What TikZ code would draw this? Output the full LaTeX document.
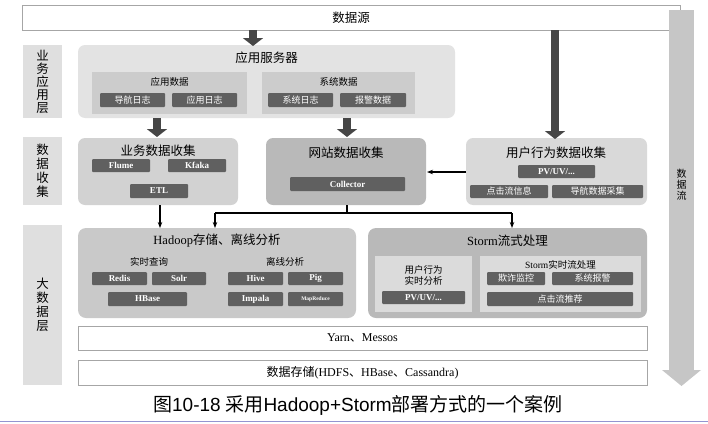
\documentclass[tikz,border=0pt]{standalone}
\usepackage{fontspec}
\setmainfont{Liberation Serif}
\newfontfamily\cjk{Noto Sans CJK SC}
\newfontfamily\capf{Liberation Sans}
\usetikzlibrary{arrows.meta}
\begin{document}
\begin{tikzpicture}[x=1pt,y=-1pt,
  wbox/.style={draw=gray!70,fill=white,line width=0.6pt},
  side/.style={fill=gray!25,draw=none},
  inner/.style={fill=gray!40,draw=none},
  chip/.style={fill=gray!75!black,draw=none,rounded corners=1pt},
  ct/.style={text=white,font=\bfseries\fontsize{9}{10}\selectfont},
  cc/.style={text=white,font=\cjk\fontsize{9}{10}\selectfont},
  title/.style={font=\cjk\fontsize{12.5}{14}\selectfont},
  sub/.style={font=\cjk\fontsize{9.5}{11}\selectfont},
  big/.style={-{Triangle[width=20pt,length=8pt]},line width=8pt,draw=gray!55!black},
  thin/.style={-{Stealth[length=6pt]},line width=1.1pt}]
\useasboundingbox (0,0) rectangle (708,423);
% data source
\node[wbox,minimum width=658pt,minimum height=25pt,inner sep=0pt] (src) at (351,17.5) {};
\node[title] (srct) at (src) {数据源};
% data flow column
\fill[gray!45] (669,10) rectangle (694,370);
\fill[gray!45] (662,370) -- (701,370) -- (681.5,386) -- cycle;
\node[font=\cjk\fontsize{10}{11}\selectfont,align=center] (flow) at (681.5,185) {数\\据\\流};
% side labels
\fill[side] (23,45) rectangle (62,118);
\node[font=\cjk\fontsize{12.5}{13}\selectfont,align=center] (l1) at (42.5,81.5) {业\\务\\应\\用\\层};
\fill[side] (23,137) rectangle (62,205);
\node[font=\cjk\fontsize{12.5}{14}\selectfont,align=center] (l2) at (42.5,171) {数\\据\\收\\集};
\fill[side] (23,225) rectangle (62,385);
\node[font=\cjk\fontsize{12.5}{14}\selectfont,align=center] (l3) at (42.5,305) {大\\数\\据\\层};
% app server
\fill[gray!22,rounded corners=7pt] (78,45) rectangle (455,118);
\node[title] (appt) at (266.5,58) {应用服务器};
\fill[inner] (92,72) rectangle (247,114);
\fill[inner] (262,72) rectangle (415,114);
\node[sub] (ad) at (169.5,82) {应用数据};
\node[sub] (sd) at (338.5,82) {系统数据};
\fill[chip] (100,93) rectangle (165,107); \node[cc] (c1) at (132.5,100) {导航日志};
\fill[chip] (172,93) rectangle (237,107); \node[cc] (c2) at (204.5,100) {应用日志};
\fill[chip] (268,93) rectangle (333,107); \node[cc] (c3) at (300.5,100) {系统日志};
\fill[chip] (340,93) rectangle (406,107); \node[cc] (c4) at (373,100) {报警数据};
% collection
\fill[gray!35,rounded corners=7pt] (78,138) rectangle (238,205);
\node[title] (bt) at (158,151) {业务数据收集};
\fill[chip] (92,159) rectangle (150,172); \node[ct] (f1) at (121,165.5) {Flume};
\fill[chip] (168,159) rectangle (226,172); \node[ct] (f2) at (197,165.5) {Kfaka};
\fill[chip] (130,184) rectangle (188,198); \node[ct] (f3) at (159,191) {ETL};
\fill[gray!55,rounded corners=7pt] (266,138) rectangle (426,205);
\node[title] (wt) at (346,153) {网站数据收集};
\fill[chip] (290,177) rectangle (405,191); \node[ct] (col) at (347.5,184) {Collector};
\fill[gray!30,rounded corners=7pt] (466,138) rectangle (647,205);
\node[title] (ut) at (556,153) {用户行为数据收集};
\fill[chip] (518,165) rectangle (595,178); \node[ct] (pv1) at (556.5,171.5) {PV/UV/...};
\fill[chip] (470,185) rectangle (548,198); \node[cc] (u1) at (509,191.5) {点击流信息};
\fill[chip] (552,185) rectangle (643,198); \node[cc] (u2) at (597.5,191.5) {导航数据采集};
% big arrows
\draw[big] (253,30) -- (253,46);
\draw[big] (157,118) -- (157,137);
\draw[big] (347,118) -- (347,137);
\draw[big] (555,30) -- (555,139);
\coordinate (ur) at (466,172); \coordinate (wr) at (427,172);
\draw[thin] (ur) -- (wr);
% connectors
\coordinate (b1) at (160,205); \coordinate (h1) at (160,228);
\draw[thin] (b1) -- (h1);
\coordinate (w1) at (347,205); \coordinate (j) at (347,213);
\coordinate (jl) at (215,213); \coordinate (jr) at (512,213);
\coordinate (h2) at (215,228); \coordinate (s2) at (512,228);
\draw[line width=1.1pt] (w1) -- (j);
\draw[line width=1.1pt] (jl) -- (jr);
\draw[thin] (jl) -- (h2);
\draw[thin] (jr) -- (s2);
% Hadoop
\fill[gray!42,rounded corners=8pt] (78,228) rectangle (356,318);
\node[font=\fontsize{12.5}{14}\selectfont] (ht) at (217,241) {Hadoop{\cjk 存储、离线分析}};
\node[sub] (rq) at (149,262) {实时查询};
\node[sub] (ol) at (285,262) {离线分析};
\fill[chip] (92,272) rectangle (147,285); \node[ct] (h_a) at (119.5,278.5) {Redis};
\fill[chip] (152,272) rectangle (206,285); \node[ct] (h_b) at (179,278.5) {Solr};
\fill[chip] (108,292) rectangle (187,306); \node[ct] (h_c) at (147.5,299) {HBase};
\fill[chip] (228,272) rectangle (283,285); \node[ct] (h_d) at (255.5,278.5) {Hive};
\fill[chip] (288,272) rectangle (343,285); \node[ct] (h_e) at (315.5,278.5) {Pig};
\fill[chip] (228,292) rectangle (283,306); \node[ct] (h_f) at (255.5,299) {Impala};
\fill[chip] (288,292) rectangle (343,306); \node[text=white,font=\bfseries\fontsize{5.5}{6}\selectfont] (h_g) at (315.5,299) {MapReduce};
% Storm
\fill[gray!55,rounded corners=8pt] (368,228) rectangle (647,318);
\node[font=\fontsize{12.5}{14}\selectfont] (st) at (507.5,241) {Storm{\cjk 流式处理}};
\fill[gray!28] (375,256) rectangle (472,312);
\node[sub,align=center] (ua) at (423.5,275) {用户行为\\实时分析};
\fill[chip] (382,291) rectangle (465,304); \node[ct] (pv2) at (423.5,297.5) {PV/UV/...};
\fill[gray!28] (480,256) rectangle (641,312);
\node[font=\fontsize{9.5}{11}\selectfont] (srt) at (560.5,265) {Storm{\cjk 实时流处理}};
\fill[chip] (487,272) rectangle (545,285); \node[cc] (s_a) at (516,278.5) {欺诈监控};
\fill[chip] (552,272) rectangle (633,285); \node[cc] (s_b) at (592.5,278.5) {系统报警};
\fill[chip] (487,292) rectangle (633,306); \node[cc] (s_c) at (560,299) {点击流推荐};
% bottom layers
\node[wbox,minimum width=569pt,minimum height=24pt,inner sep=0pt] (yarn) at (362.5,338) {};
\node[font=\fontsize{12}{13}\selectfont] (yt) at (yarn) {Yarn{\cjk 、}Messos};
\node[wbox,minimum width=569pt,minimum height=25pt,inner sep=0pt] (store) at (362.5,372.5) {};
\node[font=\fontsize{12}{13}\selectfont] (stt) at (store) {{\cjk 数据存储}(HDFS{\cjk 、}HBase{\cjk 、}Cassandra)};
% caption
\node[font=\fontsize{19}{21}\selectfont] (cap) at (358,405) {{\cjk 图}{\capf 10-18} {\cjk 采用}{\capf Hadoop+Storm}{\cjk 部署方式的一个案例}};
\fill[blue!40!gray!60] (0,420.5) rectangle (708,422);
\end{tikzpicture}
\end{document}
